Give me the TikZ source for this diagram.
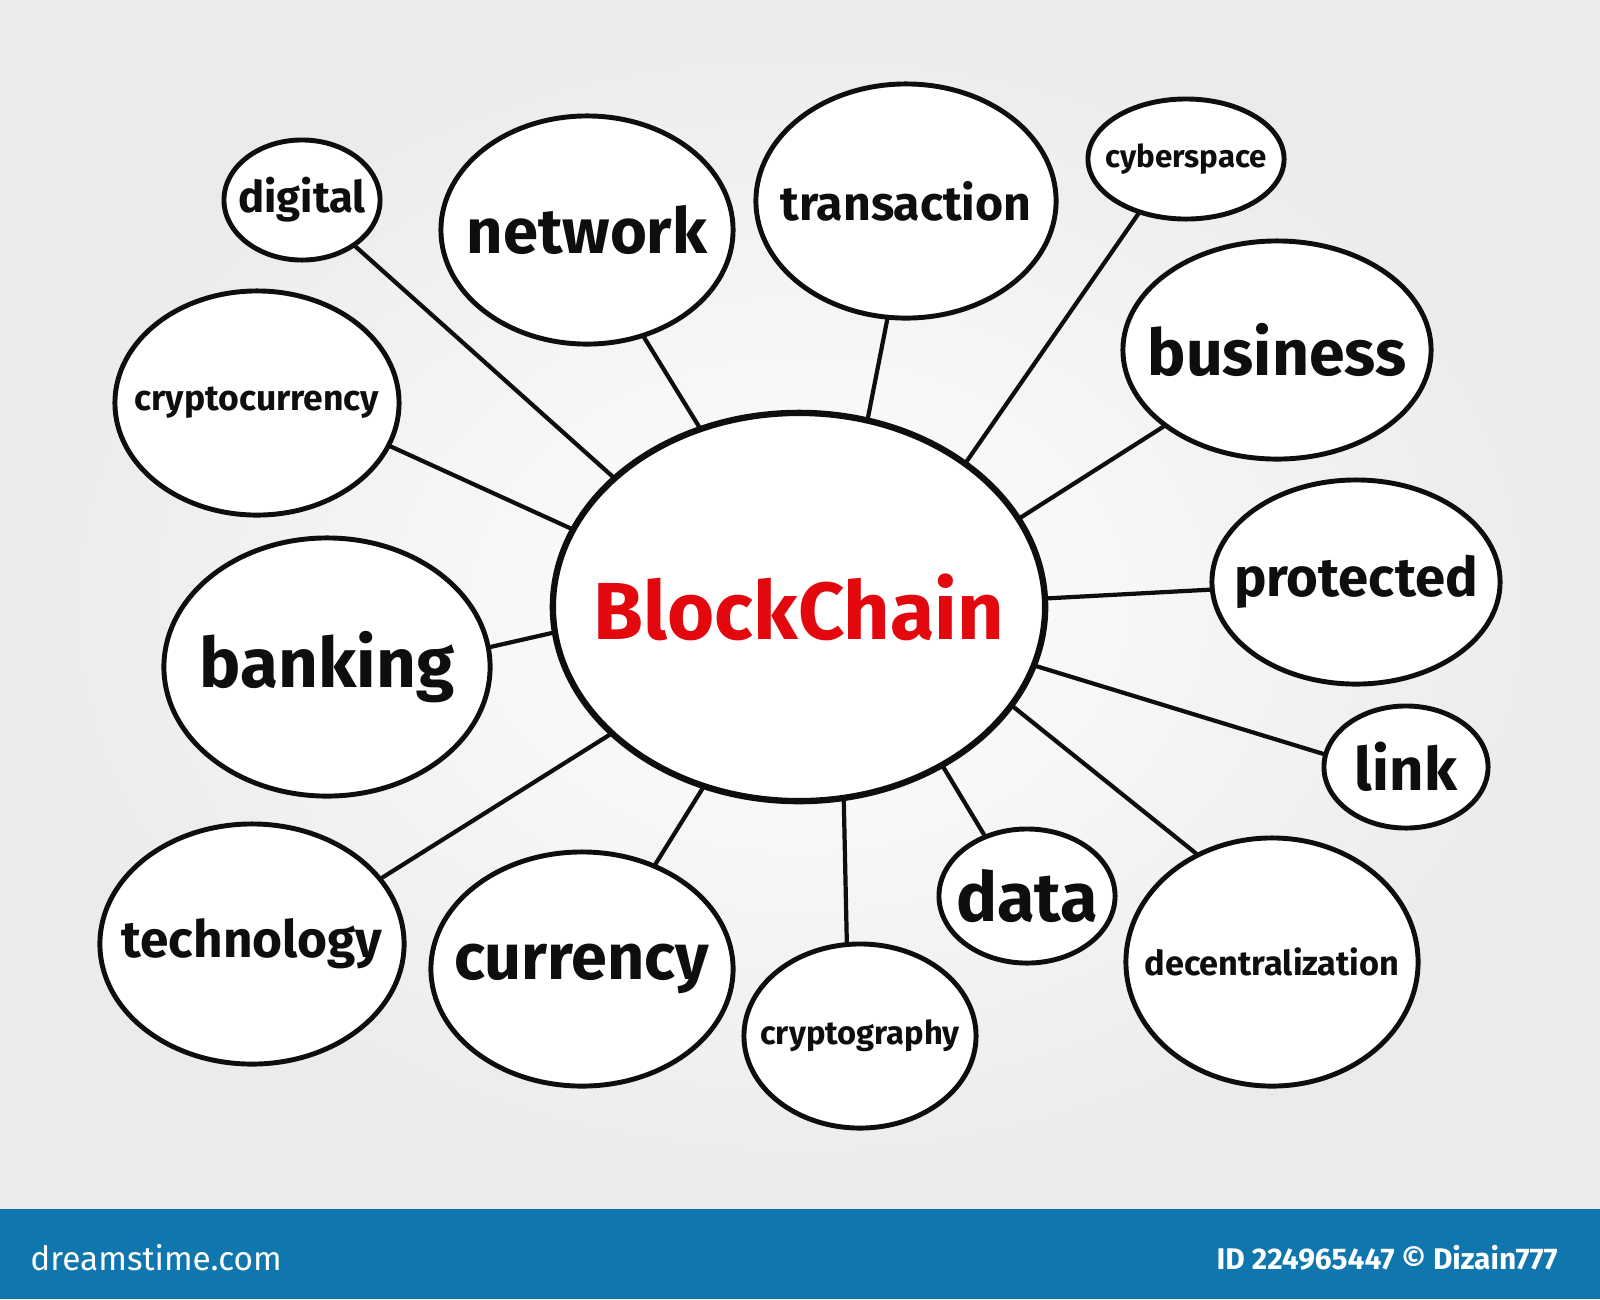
\documentclass[tikz,border=0pt]{standalone}
\usepackage{fontspec}
\setmainfont{Fira Sans}
\usepackage{tikz}
\usetikzlibrary{shapes.geometric}
\definecolor{chainred}{RGB}{226,8,14}
\definecolor{barblue}{RGB}{16,119,174}
\definecolor{inkblack}{RGB}{14,14,14}

\tikzset{
  bubble/.style={ellipse,draw=inkblack,line width=1.4pt,fill=white,inner sep=-30pt,text=inkblack},
  spoke/.style={draw=inkblack,line width=1.2pt,line cap=round}
}

\begin{document}
\begin{tikzpicture}[x=0.01cm,y=-0.01cm]
        \useasboundingbox (0,0) rectangle (1600,1299);
        % Background and footer bar
        \shade[inner color=white,outer color=black!8] (0,0) rectangle (1600,1209);
        \fill[barblue] (0,1209) rectangle (1600,1299);
        \node[anchor=west,text=white,font=\fontsize{9.5}{12}\selectfont] (site) at (18,1258) {dreamstime.com};
        \node[anchor=east,text=white,font=\fontsize{8.5}{10}\selectfont\bfseries] (credit) at (1570,1258) {ID 224965447 © Dizain777};

        % Central topic
        \node[bubble,line width=1.8pt,minimum width=4.92cm,minimum height=3.88cm,text=chainred,font=\fontsize{23}{26}\selectfont\bfseries] (blockchain) at (799,607) {BlockChain};

        % Surrounding keywords
        \node[bubble,minimum width=1.56cm,minimum height=1.2cm,font=\fontsize{12.4}{14}\selectfont\bfseries] (digital) at (302,200) {digital};
        \node[bubble,minimum width=2.92cm,minimum height=2.28cm,font=\fontsize{18}{20}\selectfont\bfseries] (network) at (587,230) {network};
        \node[bubble,minimum width=3.0cm,minimum height=2.34cm,font=\fontsize{13.7}{16}\selectfont\bfseries] (transaction) at (906,201) {transaction};
        \node[bubble,minimum width=1.96cm,minimum height=1.2cm,font=\fontsize{8.9}{10}\selectfont\bfseries] (cyberspace) at (1186,159) {cyberspace};
        \node[bubble,minimum width=3.08cm,minimum height=2.18cm,font=\fontsize{18.3}{20}\selectfont\bfseries] (business) at (1277,350) {business};
        \node[bubble,minimum width=2.88cm,minimum height=2.04cm,font=\fontsize{15.5}{18}\selectfont\bfseries] (protected) at (1356,582) {protected};
        \node[bubble,minimum width=1.64cm,minimum height=1.22cm,font=\fontsize{17}{20}\selectfont\bfseries] (link) at (1406,767) {link};
        \node[bubble,minimum width=2.92cm,minimum height=2.48cm,font=\fontsize{9.75}{12}\selectfont\bfseries] (decentral) at (1272,962) {decentralization};
        \node[bubble,minimum width=1.76cm,minimum height=1.34cm,font=\fontsize{19.5}{22}\selectfont\bfseries] (data) at (1027,896) {data};
        \node[bubble,minimum width=2.32cm,minimum height=1.84cm,font=\fontsize{9.3}{11}\selectfont\bfseries] (cryptography) at (860,1036) {cryptography};
        \node[bubble,minimum width=3.02cm,minimum height=2.34cm,font=\fontsize{18.4}{20}\selectfont\bfseries] (currency) at (582,969) {currency};
        \node[bubble,minimum width=3.04cm,minimum height=2.4cm,font=\fontsize{14.6}{17}\selectfont\bfseries] (technology) at (252,944) {technology};
        \node[bubble,minimum width=3.26cm,minimum height=2.58cm,font=\fontsize{19.7}{22}\selectfont\bfseries] (banking) at (327,667) {banking};
        \node[bubble,minimum width=2.84cm,minimum height=2.24cm,font=\fontsize{10.1}{12}\selectfont\bfseries] (crypto) at (257,403) {cryptocurrency};

        % Spokes
        \draw[spoke] (blockchain.145) -- (digital.319);
        \draw[spoke] (blockchain.119) -- (network.298);
        \draw[spoke] (blockchain.70) -- (transaction.261);
        \draw[spoke] (blockchain.41) -- (cyberspace.229);
        \draw[spoke] (blockchain.22) -- (business.214);
        \draw[spoke] (blockchain.2) -- (protected.183);
        \draw[spoke] (blockchain.-14) -- (link.171);
        \draw[spoke] (blockchain.-25) -- (decentral.125);
        \draw[spoke] (blockchain.-48) -- (data.125);
        \draw[spoke] (blockchain.-77) -- (cryptography.98);
        \draw[spoke] (blockchain.242) -- (currency.55);
        \draw[spoke] (blockchain.214) -- (technology.27);
        \draw[spoke] (blockchain.186) -- (banking.7);
        \draw[spoke] (blockchain.161) -- (crypto.342);
    \end{tikzpicture}
\end{document}
